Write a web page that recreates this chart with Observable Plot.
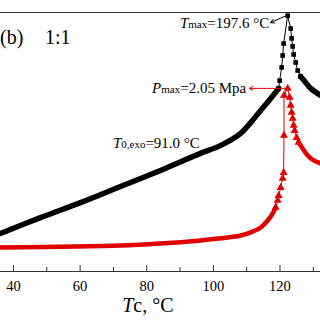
<!DOCTYPE html>
<html><head><meta charset="utf-8">
<script src="https://cdn.jsdelivr.net/npm/d3@7"></script>
<script src="https://cdn.jsdelivr.net/npm/@observablehq/plot@0.6"></script>
<style>
html,body{margin:0;padding:0;background:#fff;}
#chart{width:320px;height:320px;overflow:hidden;}
</style></head><body><div id="chart"></div>
<script>
// Black series: temperature T (relative height units, 0 = bottom axis, 100 = top frame)
const tcBlack = [36.1, 48.1, 60.1, 72.1, 84.1, 96.1, 102.1, 108.2, 111.2, 114.2, 117.2, 119.6, 119.9, 120.5, 120.8, 121.1, 122.3, 123.2, 123.5, 123.8, 124.1, 124.7, 125.3, 126.2, 127.7, 129.2, 132.2];
const tBlack  = [14.7, 20.8, 26.6, 32.8, 39.0, 45.6, 48.6, 53.3, 57.5, 62.2, 66.8, 70.7, 73.7, 78.8, 83.4, 88.0, 98.8, 93.8, 90.0, 86.9, 83.8, 80.7, 77.6, 75.3, 73.0, 70.7, 68.0];
const blackDense = [[0, 11], [23, 26]];
// Red series: pressure P (same relative units)
const tcRed = [36.1, 72.1, 84.1, 96.1, 104.2, 108.2, 111.2, 114.2, 116.3, 117.8, 118.7, 119.3, 119.6, 120.2, 120.8, 121.1, 121.2, 121.2, 122.3, 122.9, 123.2, 123.5, 123.8, 124.1, 124.4, 125.0, 125.6, 126.8, 128.3, 130.1, 132.2];
const pRed  = [9.3, 10.0, 10.8, 12.0, 13.1, 13.9, 15.1, 17.0, 19.7, 22.4, 24.7, 27.4, 29.3, 32.4, 35.9, 38.2, 52.5, 68.0, 70.7, 67.2, 64.1, 61.4, 59.1, 56.4, 54.4, 51.7, 49.8, 47.5, 44.8, 42.9, 41.7];
const redDense = [[0, 10], [26, 30]];
const majorTicks = [40, 60, 80, 100, 120];
const minorTicks = [50, 70, 90, 110, 130];

const black = tcBlack.map((x, i) => ({x, y: tBlack[i], i}));
const red = tcRed.map((x, i) => ({x, y: pRed[i], i}));
const denseSegs = (arr, segs) => segs.flatMap(([a, b], s) => arr.filter(d => d.i >= a && d.i <= b).map(d => ({...d, s})));
const sparse = (arr, segs) => arr.filter(d => !segs.some(([a, b]) => d.i > a && d.i < b) && d.i !== 0 && d.i !== arr.length - 1);

const RED = "#e00000";
const font = "Liberation Serif";

const chart = Plot.plot({
  width: 320, height: 320,
  marginLeft: 0, marginRight: 0, marginTop: 12, marginBottom: 49,
  style: {fontFamily: font, background: "#fff"},
  x: {domain: [36.1, 132.16], axis: null},
  y: {domain: [0, 100], axis: null},
  marks: [
    Plot.ruleY([0, 100], {stroke: "#333", strokeWidth: 1}),
    Plot.axisX(majorTicks, {tickSize: -6, tickPadding: 15, fontSize: 14.5, fontFamily: font, fill: "#000", stroke: "#333", label: null}),
    Plot.axisX(minorTicks, {tickSize: -4, tickFormat: () => "", stroke: "#333", label: null}),
    // black series
    Plot.line(black, {x: "x", y: "y", stroke: "#000", strokeWidth: 1}),
    Plot.line(denseSegs(black, blackDense), {x: "x", y: "y", z: "s", stroke: "#000", strokeWidth: 5.5, curve: "catmull-rom"}),
    Plot.dot(sparse(black, blackDense), {x: "x", y: "y", symbol: "square", r: 2.6, fill: "#000", stroke: null}),
    // red series
    Plot.line(red, {x: "x", y: "y", stroke: RED, strokeWidth: 1}),
    Plot.line(denseSegs(red, redDense), {x: "x", y: "y", z: "s", stroke: RED, strokeWidth: 4.5, curve: "catmull-rom"}),
    Plot.dot(sparse(red, redDense), {x: "x", y: "y", symbol: "triangle", r: 3, fill: RED, stroke: null}),
    // annotation arrows
    Plot.arrow([{x1: 121.9, y1: 98.8, x2: 117.2, y2: 96.1}], {x1: "x1", y1: "y1", x2: "x2", y2: "y2", stroke: "#000", strokeWidth: 1, headLength: 6}),
    Plot.arrow([{x1: 121.4, y1: 70.7, x2: 110.8, y2: 70.7}], {x1: "x1", y1: "y1", x2: "x2", y2: "y2", stroke: RED, strokeWidth: 1, headLength: 6})
  ]
});
document.getElementById("chart").append(chart);

const sx = chart.scale("x"), sy = chart.scale("y");
const svg = d3.select(chart);
function rich(parts, x, y, anchor) {
  const t = svg.append("text").attr("x", x).attr("y", y).attr("text-anchor", anchor)
    .attr("font-family", font).attr("fill", "#000");
  for (const [s, size, italic] of parts) {
    t.append("tspan").attr("font-size", size).attr("font-style", italic ? "italic" : "normal").text(s);
  }
}
rich([["T", 15, true], ["max", 11], ["=197.6 °C", 15]], sx.apply(116.9), sy.apply(93.8), "end");
rich([["P", 15, true], ["max", 11], ["=2.05 Mpa", 15]], sx.apply(110.0), sy.apply(68.7), "end");
rich([["T", 15, true], ["0,exo", 11], ["=91.0 °C", 15]], sx.apply(70.0), sy.apply(47.5), "start");
rich([["(b)", 20]], sx.apply(36.1), sy.apply(87.6), "start");
rich([["1:1", 20]], sx.apply(49.6), sy.apply(87.6), "start");
rich([["T", 20, true], ["c, °C", 20]], sx.apply(80.5), 312, "middle");
</script>
</body></html>
